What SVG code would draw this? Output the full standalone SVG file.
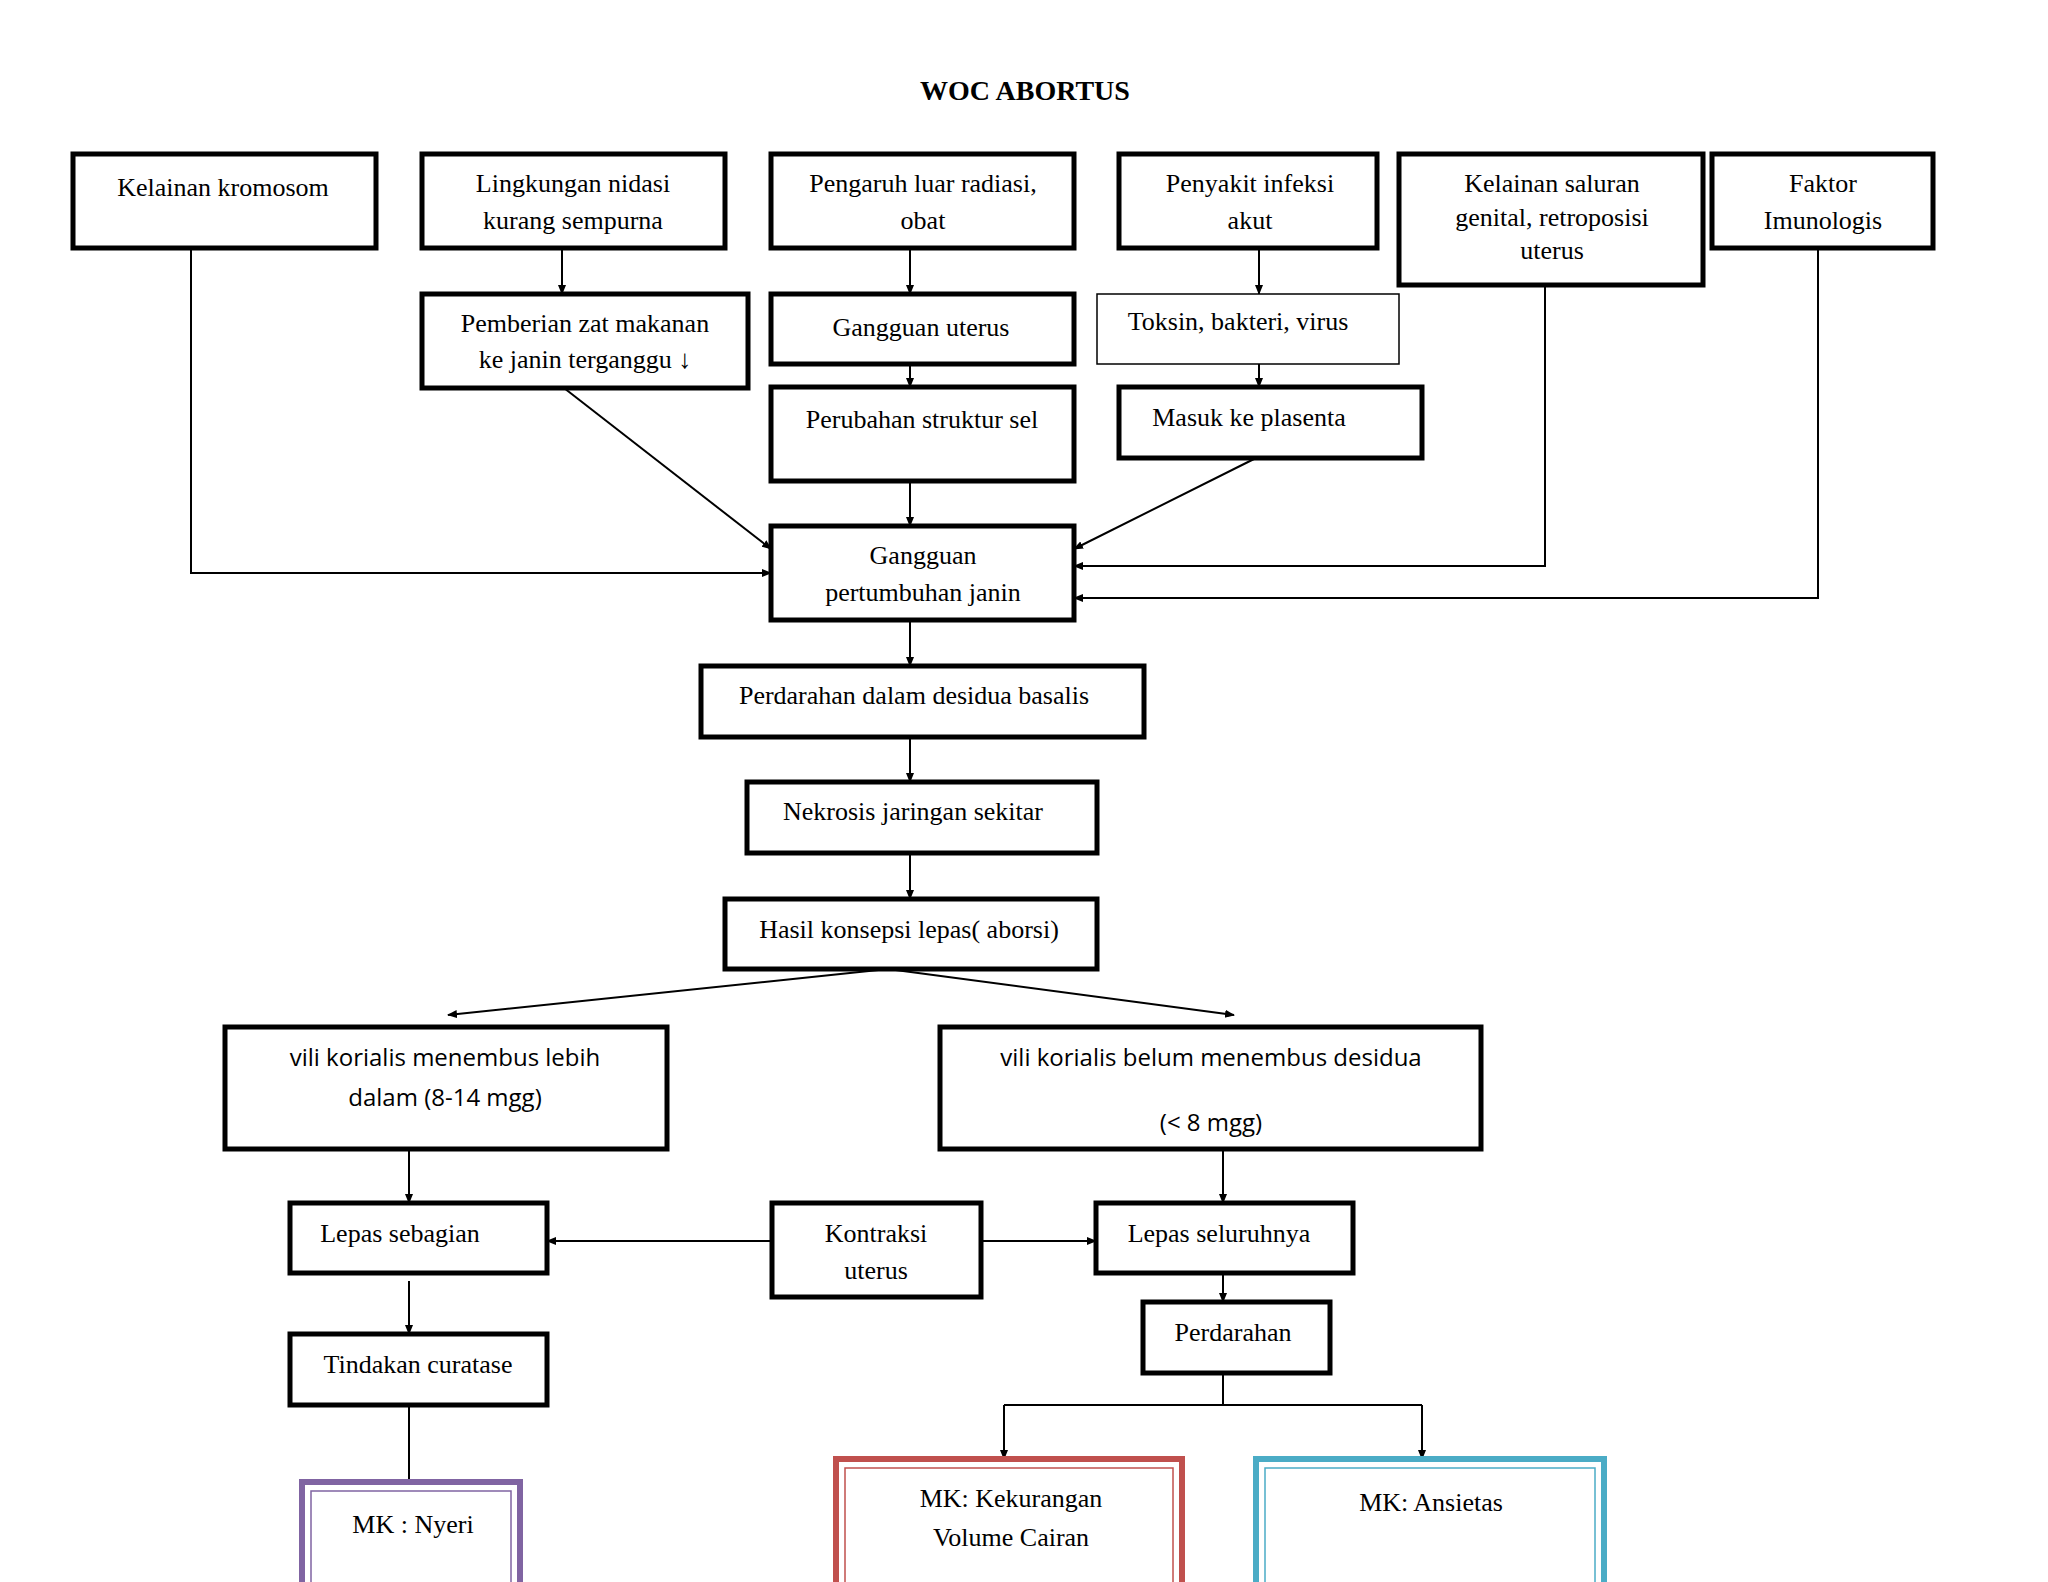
<svg xmlns="http://www.w3.org/2000/svg" width="2048" height="1582" viewBox="0 0 2048 1582">
<defs>
<marker id="ah" markerWidth="10" markerHeight="10" refX="9" refY="5" orient="auto" markerUnits="userSpaceOnUse"><path d="M0,1 L10,5 L0,9 z" fill="#000"/></marker>
<style>
.b{fill:#fff;stroke:#000;stroke-width:5}
.t{fill:#fff;stroke:#000;stroke-width:1.5}
.s{font-family:"Liberation Serif","Times New Roman",serif;font-size:26px;fill:#000;text-anchor:middle}
.ss{font-family:"Open Sans","Liberation Sans",sans-serif;font-size:24px;fill:#000;text-anchor:middle}
.c{fill:none;stroke:#000;stroke-width:2}
.a{marker-end:url(#ah)}
</style>
</defs>
<rect width="2048" height="1582" fill="#fff"/>
<text x="1025" y="100" class="s" style="font-weight:bold;font-size:28px">WOC  ABORTUS</text>
<g id="connectors">
<polyline class="c a" points="191,248 191,573 771,573"/>
<line class="c a" x1="562" y1="248" x2="562" y2="294"/>
<line class="c a" x1="910" y1="248" x2="910" y2="294"/>
<line class="c a" x1="1259" y1="248" x2="1259" y2="294"/>
<line class="c a" x1="910" y1="364" x2="910" y2="387"/>
<line class="c a" x1="1259" y1="364" x2="1259" y2="387"/>
<line class="c a" x1="564" y1="388" x2="771" y2="549"/>
<line class="c a" x1="910" y1="481" x2="910" y2="526"/>
<line class="c a" x1="1256" y1="458" x2="1074" y2="549"/>
<polyline class="c a" points="1545,285 1545,566 1074,566"/>
<polyline class="c a" points="1818,248 1818,598 1074,598"/>
<line class="c a" x1="910" y1="620" x2="910" y2="666"/>
<line class="c a" x1="910" y1="737" x2="910" y2="782"/>
<line class="c a" x1="910" y1="853" x2="910" y2="899"/>
<line class="c a" x1="888" y1="969" x2="448" y2="1015"/>
<line class="c a" x1="888" y1="969" x2="1234" y2="1015"/>
<line class="c a" x1="409" y1="1149" x2="409" y2="1203"/>
<line class="c a" x1="1223" y1="1149" x2="1223" y2="1203"/>
<line class="c a" x1="772" y1="1241" x2="547" y2="1241"/>
<line class="c a" x1="981" y1="1241" x2="1096" y2="1241"/>
<line class="c a" x1="409" y1="1281" x2="409" y2="1334"/>
<line class="c a" x1="1223" y1="1250" x2="1223" y2="1302"/>
<line class="c" x1="1223" y1="1373" x2="1223" y2="1405"/>
<line class="c" x1="1004" y1="1405" x2="1422" y2="1405"/>
<line class="c a" x1="1004" y1="1405" x2="1004" y2="1459"/>
<line class="c a" x1="1422" y1="1405" x2="1422" y2="1459"/>
<line class="c" x1="409" y1="1405" x2="409" y2="1482"/>
</g>
<g id="n1"><rect class="b" x="73" y="154" width="303" height="94"/><text class="s" x="223" y="196">Kelainan kromosom</text></g>
<g id="n2"><rect class="b" x="422" y="154" width="303" height="94"/><text class="s" x="573" y="192">Lingkungan  nidasi</text><text class="s" x="573" y="229">kurang sempurna</text></g>
<g id="n3"><rect class="b" x="771" y="154" width="303" height="94"/><text class="s" x="923" y="192">Pengaruh luar radiasi,</text><text class="s" x="923" y="229">obat</text></g>
<g id="n4"><rect class="b" x="1119" y="154" width="258" height="94"/><text class="s" x="1250" y="192">Penyakit infeksi</text><text class="s" x="1250" y="229">akut</text></g>
<g id="n5"><rect class="b" x="1399" y="154" width="304" height="131"/><text class="s" x="1552" y="192">Kelainan saluran</text><text class="s" x="1552" y="226">genital, retroposisi</text><text class="s" x="1552" y="259">uterus</text></g>
<g id="n6"><rect class="b" x="1712" y="154" width="221" height="94"/><text class="s" x="1823" y="192">Faktor</text><text class="s" x="1823" y="229">Imunologis</text></g>
<g id="n7"><rect class="b" x="422" y="294" width="326" height="94"/><text class="s" x="585" y="332">Pemberian zat makanan</text><text class="s" x="585" y="368">ke janin terganggu ↓</text></g>
<g id="n8"><rect class="b" x="771" y="294" width="303" height="70"/><text class="s" x="921" y="336">Gangguan uterus</text></g>
<g id="n9"><rect class="t" x="1097" y="294" width="302" height="70"/><text class="s" x="1238" y="330">Toksin,  bakteri,  virus</text></g>
<g id="n10"><rect class="b" x="771" y="387" width="303" height="94"/><text class="s" x="922" y="428">Perubahan struktur sel</text></g>
<g id="n11"><rect class="b" x="1119" y="387" width="303" height="71"/><text class="s" x="1249" y="426">Masuk ke plasenta</text></g>
<g id="n12"><rect class="b" x="771" y="526" width="303" height="94"/><text class="s" x="923" y="564">Gangguan</text><text class="s" x="923" y="601">pertumbuhan janin</text></g>
<g id="n13"><rect class="b" x="701" y="666" width="443" height="71"/><text class="s" x="914" y="704">Perdarahan dalam desidua  basalis</text></g>
<g id="n14"><rect class="b" x="747" y="782" width="350" height="71"/><text class="s" x="913" y="820">Nekrosis  jaringan  sekitar</text></g>
<g id="n15"><rect class="b" x="725" y="899" width="372" height="70"/><text class="s" x="909" y="938">Hasil  konsepsi  lepas( aborsi)</text></g>
<g id="n16"><rect class="b" x="225" y="1027" width="442" height="122"/><text class="ss" x="445" y="1066">vili  korialis menembus lebih</text><text class="ss" x="445" y="1106">dalam (8-14 mgg)</text></g>
<g id="n17"><rect class="b" x="940" y="1027" width="541" height="122"/><text class="ss" x="1211" y="1066">vili  korialis belum menembus desidua</text><text class="ss" x="1211" y="1131">(&lt; 8 mgg)</text></g>
<g id="n18"><rect class="b" x="290" y="1203" width="257" height="70"/><text class="s" x="400" y="1242">Lepas sebagian</text></g>
<g id="n19"><rect class="b" x="772" y="1203" width="209" height="94"/><text class="s" x="876" y="1242">Kontraksi</text><text class="s" x="876" y="1279">uterus</text></g>
<g id="n20"><rect class="b" x="1096" y="1203" width="257" height="70"/><text class="s" x="1219" y="1242">Lepas seluruhnya</text></g>
<g id="n21"><rect class="b" x="1143" y="1302" width="187" height="71"/><text class="s" x="1233" y="1341">Perdarahan</text></g>
<g id="n22"><rect class="b" x="290" y="1334" width="257" height="71"/><text class="s" x="418" y="1373">Tindakan curatase</text></g>
<g id="n23"><rect x="302" y="1482" width="218" height="110" fill="#fff" stroke="#8064A2" stroke-width="6"/><rect x="311" y="1491" width="200" height="100" fill="none" stroke="#8064A2" stroke-width="1.5"/><text class="s" x="413" y="1533">MK : Nyeri</text></g>
<g id="n24"><rect x="836" y="1459" width="346" height="133" fill="#fff" stroke="#C0504D" stroke-width="6"/><rect x="845" y="1468" width="328" height="120" fill="none" stroke="#C0504D" stroke-width="1.5"/><text class="s" x="1011" y="1507">MK: Kekurangan</text><text class="s" x="1011" y="1546">Volume  Cairan</text></g>
<g id="n25"><rect x="1256" y="1459" width="348" height="133" fill="#fff" stroke="#4BACC6" stroke-width="6"/><rect x="1265" y="1468" width="330" height="120" fill="none" stroke="#4BACC6" stroke-width="1.5"/><text class="s" x="1431" y="1511">MK: Ansietas</text></g>
</svg>
